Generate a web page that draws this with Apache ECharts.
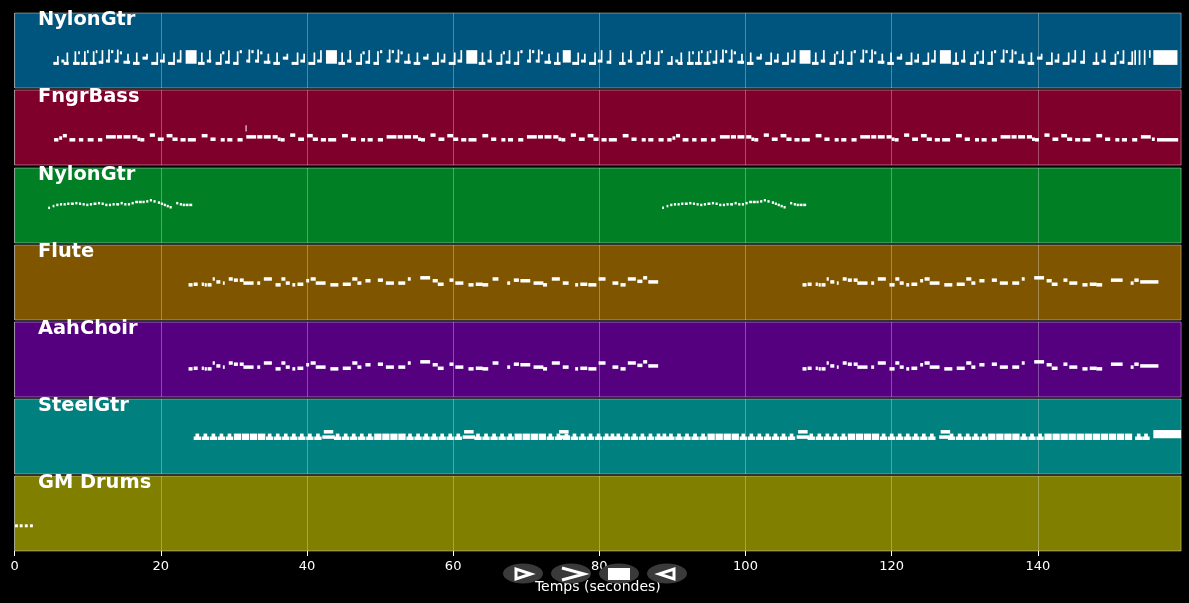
<!DOCTYPE html>
<html>
<head>
<meta charset="utf-8">
<style>html,body{margin:0;padding:0;background:#000}#chart{width:1189px;height:603px}</style>
<script src="https://cdn.jsdelivr.net/npm/echarts@6/dist/echarts.min.js"></script>
</head>
<body>
<div id="chart"></div>
<script>
// notes are [start seconds, duration, midi pitch, optional top pitch of a chord]
const trackNames = ['NylonGtr', 'FngrBass', 'NylonGtr', 'Flute', 'AahChoir', 'SteelGtr', 'GM Drums'];
const trackColors = ['#00557f', '#7f002a', '#007f24', '#7f5500', '#55007f', '#00807f', '#807f00'];
const timeTicks = [0, 20, 40, 60, 80, 100, 120, 140];

const guitarNotes = [
  [5.3,.7,42],[5.8,.1,42,52],[6.4,.4,46],[6.7,.7,42],[7.1,.1,42,58],[8,.9,42],[8.2,.1,42,60],[8.7,.2,60],[9.1,.9,42],[9.5,.1,42,60],[9.9,.2,62],[10.3,.9,42],[10.7,.1,42,60],[11.1,.2,62],[11.5,.6,44],[11.9,.1,44,62],
  [12.5,.5,46],[12.8,.1,46,63],[13.2,.3,62],[13.7,.5,46],[14,.1,46,63],[14.4,.3,60],[14.9,.9,44],[15.4,.1,44,56],[16.2,.9,42],[16.6,.1,42,58],[17.5,.6,51],[18,.1,51,56],[18.7,.9,42],[19.4,.1,42,58],[19.9,.6,46],[20.3,.1,46,56],[21,.8,42],[21.7,.1,42,58],[22.2,.5,46],[22.6,.1,46,62],[23.4,1.5,44,62],[25.1,.9,42],[25.5,.1,44,58],[26.3,.6,46],[26.6,.1,46,62],[27.5,.7,42],[28.1,.1,42,56],[28.4,.3,60],[28.8,.6,44],[29.2,.1,44,62],[29.9,.7,42],[30.4,.1,42,60],[30.8,.3,62],
  [31.7,.5,46],[32,.1,46,63],[32.4,.3,62],[32.9,.5,46],[33.2,.1,46,63],[33.6,.3,60],[34.1,.9,44],[34.6,.1,44,56],[35.4,.9,42],[35.8,.1,42,58],[36.7,.6,51],[37.2,.1,51,56],[37.9,.9,42],[38.6,.1,42,58],[39.1,.6,46],[39.5,.1,46,56],[40.2,.8,42],[40.9,.1,42,58],[41.4,.5,46],[41.8,.1,46,62],[42.6,1.5,44,62],[44.3,.9,42],[44.7,.1,44,58],[45.5,.6,46],[45.8,.1,46,62],[46.7,.7,42],[47.3,.1,42,56],[47.6,.3,60],[48,.6,44],[48.4,.1,44,62],[49.1,.7,42],[49.6,.1,42,60],[50,.3,62],
  [50.9,.5,46],[51.2,.1,46,63],[51.6,.3,62],[52.1,.5,46],[52.4,.1,46,63],[52.8,.3,60],[53.3,.9,44],[53.8,.1,44,56],[54.6,.9,42],[55,.1,42,58],[55.9,.6,51],[56.4,.1,51,56],[57.1,.9,42],[57.8,.1,42,58],[58.3,.6,46],[58.7,.1,46,56],[59.4,.8,42],[60.1,.1,42,58],[60.6,.5,46],[61,.1,46,62],[61.8,1.5,44,62],[63.5,.9,42],[63.9,.1,44,58],[64.7,.6,46],[65,.1,46,62],[65.9,.7,42],[66.5,.1,42,56],[66.8,.3,60],[67.2,.6,44],[67.6,.1,44,62],[68.3,.7,42],[68.8,.1,42,60],[69.2,.3,62],
  [70.1,.5,46],[70.4,.1,46,63],[70.8,.3,62],[71.3,.5,46],[71.6,.1,46,63],[72,.3,60],[72.5,.9,44],[73,.1,44,56],[73.8,.9,42],[74.2,.1,42,58],[75,1.1,46,62],[76.3,.9,42],[77,.1,42,58],[77.5,.6,46],[77.9,.1,46,56],[78.6,.8,42],[79.3,.1,42,58],[79.8,.5,46],[80.2,.1,46,62],[81,.6,44],[81.4,.1,44,62],[82.7,.9,42],[83.1,.1,44,58],[83.9,.6,46],[84.2,.1,46,62],[85.1,.7,42],[85.7,.1,42,56],[86,.3,60],[86.4,.6,44],[86.8,.1,44,62],[87.5,.7,42],[88,.1,42,60],[88.4,.3,62],
  [89.3,.7,42],[89.8,.1,42,52],[90.4,.4,46],[90.7,.7,42],[91.1,.1,42,58],[92,.9,42],[92.2,.1,42,60],[92.7,.2,60],[93.1,.9,42],[93.5,.1,42,60],[93.9,.2,62],[94.3,.9,42],[94.7,.1,42,60],[95.1,.2,62],[95.5,.6,44],[95.9,.1,44,62],
  [96.5,.5,46],[96.8,.1,46,63],[97.2,.3,62],[97.7,.5,46],[98,.1,46,63],[98.4,.3,60],[98.9,.9,44],[99.4,.1,44,56],[100.2,.9,42],[100.6,.1,42,58],[101.5,.6,51],[102,.1,51,56],[102.7,.9,42],[103.4,.1,42,58],[103.9,.6,46],[104.3,.1,46,56],[105,.8,42],[105.7,.1,42,58],[106.2,.5,46],[106.6,.1,46,62],[107.4,1.5,44,62],[109.1,.9,42],[109.5,.1,44,58],[110.3,.6,46],[110.6,.1,46,62],[111.5,.7,42],[112.1,.1,42,56],[112.4,.3,60],[112.8,.6,44],[113.2,.1,44,62],[113.9,.7,42],[114.4,.1,42,60],[114.8,.3,62],
  [115.7,.5,46],[116,.1,46,63],[116.4,.3,62],[116.9,.5,46],[117.2,.1,46,63],[117.6,.3,60],[118.1,.9,44],[118.6,.1,44,56],[119.4,.9,42],[119.8,.1,42,58],[120.7,.6,51],[121.2,.1,51,56],[121.9,.9,42],[122.6,.1,42,58],[123.1,.6,46],[123.5,.1,46,56],[124.2,.8,42],[124.9,.1,42,58],[125.4,.5,46],[125.8,.1,46,62],[126.6,1.5,44,62],[128.3,.9,42],[128.7,.1,44,58],[129.5,.6,46],[129.8,.1,46,62],[130.7,.7,42],[131.3,.1,42,56],[131.6,.3,60],[132,.6,44],[132.4,.1,44,62],[133.1,.7,42],[133.6,.1,42,60],[134,.3,62],
  [134.9,.5,46],[135.2,.1,46,63],[135.6,.3,62],[136.1,.5,46],[136.4,.1,46,63],[136.8,.3,60],[137.3,.9,44],[137.8,.1,44,56],[138.6,.9,42],[139,.1,42,58],[139.9,.6,51],[140.4,.1,51,56],[141.1,.9,42],[141.8,.1,42,58],[142.3,.6,46],[142.7,.1,46,56],[143.4,.8,42],[144.1,.1,42,58],[144.6,.5,46],[145,.1,46,62],[145.8,.6,44],[146.2,.1,44,62],[147.5,.9,42],[147.9,.1,44,58],[148.7,.6,46],[149,.1,46,62],[149.9,.7,42],[150.5,.1,42,56],[150.8,.3,60],[151.2,.6,44],[151.6,.1,44,62],[152.3,.7,42],[152.8,.1,42,60],[153.2,.1,42,62],[153.8,.1,42,62],[154.5,.1,42,62],[155.2,.2,54,62],
  [155.8,3.3,42,62]
];

const bassNotes = [
  [5.4,.6,43],[6.1,.4,46],[6.6,.55,50],[7.5,.8,43],[8.8,.6,43],[10,.8,43],[11.4,.6,43],
  [12.5,1.35,48],[14,.7,48],[14.9,.95,48],[16.1,.7,48],[16.8,.4,44],[17.2,.55,43],[18.5,.7,51],[19.6,.8,44],[20.8,.8,50],[21.6,.7,44],[22.7,.7,43],[23.7,1.1,43],[25.6,.8,50],[26.8,.7,44],[28.2,.55,43],[29.1,.7,43],[30.5,.7,43],
  [31.6,.12,60,65],[31.7,1.35,48],[33.2,.7,48],[34.1,.95,48],[35.3,.7,48],[36,.4,44],[36.4,.55,43],[37.7,.7,51],[38.8,.8,44],[40,.8,50],[40.8,.7,44],[41.9,.7,43],[42.9,1.1,43],[44.8,.8,50],[46,.7,44],[47.4,.55,43],[48.3,.7,43],[49.7,.7,43],
  [50.9,1.35,48],[52.4,.7,48],[53.3,.95,48],[54.5,.7,48],[55.2,.4,44],[55.6,.55,43],[56.9,.7,51],[58,.8,44],[59.2,.8,50],[60,.7,44],[61.1,.7,43],[62.1,1.1,43],[64,.8,50],[65.2,.7,44],[66.6,.55,43],[67.5,.7,43],[68.9,.7,43],
  [70.1,1.35,48],[71.6,.7,48],[72.5,.95,48],[73.7,.7,48],[74.4,.4,44],[74.8,.55,43],[76.1,.7,51],[77.2,.8,44],[78.4,.8,50],[79.2,.7,44],[80.3,.7,43],[81.3,1.1,43],[83.2,.8,50],[84.4,.7,44],[85.8,.55,43],[86.7,.7,43],[88.1,.7,43],
  [89.3,.6,43],[90,.4,46],[90.5,.55,50],[91.4,.8,43],[92.7,.6,43],[93.9,.8,43],[95.3,.6,43],
  [96.5,1.35,48],[98,.7,48],[98.9,.95,48],[100.1,.7,48],[100.8,.4,44],[101.2,.55,43],[102.5,.7,51],[103.6,.8,44],[104.8,.8,50],[105.6,.7,44],[106.7,.7,43],[107.7,1.1,43],[109.6,.8,50],[110.8,.7,44],[112.2,.55,43],[113.1,.7,43],[114.5,.7,43],
  [115.7,1.35,48],[117.2,.7,48],[118.1,.95,48],[119.3,.7,48],[120,.4,44],[120.4,.55,43],[121.7,.7,51],[122.8,.8,44],[124,.8,50],[124.8,.7,44],[125.9,.7,43],[126.9,1.1,43],[128.8,.8,50],[130,.7,44],[131.4,.55,43],[132.3,.7,43],[133.7,.7,43],
  [134.9,1.35,48],[136.4,.7,48],[137.3,.95,48],[138.5,.7,48],[139.2,.4,44],[139.6,.55,43],[140.9,.7,51],[142,.8,44],[143.2,.8,50],[144,.7,44],[145.1,.7,43],[146.1,1.1,43],[148,.8,50],[149.2,.7,44],[150.6,.55,43],[151.5,.7,43],[152.9,.7,43],
  [154.1,1.35,48],[155.6,.4,44],[156.3,2.9,43]
];

const melodyNotes = [
  [4.6,.25,60],[5.2,.25,63],[5.7,.3,65],[6.2,.3,66],[6.7,.3,66],[7.2,.3,67],[7.7,.4,67],[8.3,.3,68],[8.8,.3,67],[9.3,.3,66],[9.8,.3,65],[10.3,.3,66],[10.8,.4,67],[11.4,.3,68],[11.9,.3,67],[12.4,.3,65],[12.9,.3,65],[13.4,.3,66],[13.9,.4,66],[14.5,.3,68],[15,.3,66],[15.5,.3,66],[16,.3,68],[16.5,.4,70],[17,.4,70],[17.5,.3,70],[18,.3,71],[18.5,.3,73],[19,.3,71],[19.6,.3,69],[20,.3,67],[20.4,.3,65],[20.8,.3,63],[21.2,.3,61],[22.1,.3,68],[22.6,.3,66],[23,.3,65],[23.4,.4,65],[23.9,.4,65],
  [88.6,.25,60],[89.2,.25,63],[89.7,.3,65],[90.2,.3,66],[90.7,.3,66],[91.2,.3,67],[91.7,.4,67],[92.3,.3,68],[92.8,.3,67],[93.3,.3,66],[93.8,.3,65],[94.3,.3,66],[94.8,.4,67],[95.4,.3,68],[95.9,.3,67],[96.4,.3,65],[96.9,.3,65],[97.4,.3,66],[97.9,.4,66],[98.5,.3,68],[99,.3,66],[99.5,.3,66],[100,.3,68],[100.5,.4,70],[101,.4,70],[101.5,.3,70],[102,.3,71],[102.5,.3,73],[103,.3,71],[103.6,.3,69],[104,.3,67],[104.4,.3,65],[104.8,.3,63],[105.2,.3,61],[106.1,.3,68],[106.6,.3,66],[107,.3,65],[107.4,.4,65],[107.9,.4,65]
];

const fluteNotes = [
  [23.8,.55,60],[24.5,.55,61],[25.6,.3,61],[26,.3,60],[26.4,.55,60],[27.1,.3,70],[27.6,.55,65],[28.5,.25,63],[29.3,.55,70],[30,.55,68],[30.8,.55,68],[31.3,1.4,63],[33.2,.4,63],[34.1,1.1,70],[35.7,.7,60],[36.5,.55,70],[37.1,.55,63],[38,.4,60],[38.7,.8,61],[39.9,.4,67],[40.5,.7,70],[41.2,1.35,63],[43.2,1.1,60],[44.9,1.1,61],[46.2,.7,70],[46.9,.55,63],[48,.7,67],[49.7,.7,68],[50.8,1.1,63],[52.5,.95,63],[53.8,.4,70],[55.5,1.35,72],[57.2,.7,67],[57.9,.8,61],[59.5,.55,68],[60.3,1.1,63],[62.1,.7,60],[63.1,.95,61],[64,.8,60],[65.4,.8,70],[67.4,.4,63],[68.3,.7,68],[69.2,1.35,67],[71,1.35,63],[72.3,.55,60],[73.5,1.1,70],[75,.8,63],[76.7,.4,60],[77.4,.95,61],[78.5,1.1,60],[79.9,.95,70],[81.8,.8,63],[82.9,.7,60],[83.9,1.1,70],[85.2,.7,66],[86,.55,72],[86.7,1.35,65],
  [107.8,.55,60],[108.5,.55,61],[109.6,.3,61],[110,.3,60],[110.4,.55,60],[111.1,.3,70],[111.6,.55,65],[112.5,.25,63],[113.3,.55,70],[114,.55,68],[114.8,.55,68],[115.3,1.4,63],[117.2,.4,63],[118.1,1.1,70],[119.7,.7,60],[120.5,.55,70],[121.1,.55,63],[122,.4,60],[122.7,.8,61],[123.9,.4,67],[124.5,.7,70],[125.2,1.35,63],[127.2,1.1,60],[128.9,1.1,61],[130.2,.7,70],[130.9,.55,63],[132,.7,67],[133.7,.7,68],[134.8,1.1,63],[136.5,.95,63],[137.8,.4,70],[139.5,1.35,72],[141.2,.7,67],[141.9,.8,61],[143.5,.55,68],[144.3,1.1,63],[146.1,.7,60],[147.1,.95,61],[148,.8,60],[150,1.6,68],[152.7,.4,63],[153.2,.6,68],[154,2.5,65]
];

// same melody as the flute, one octave lower
const choirNotes = fluteNotes.map(n => [n[0], n[1], n[2] - 12]);

// steel guitar: broken chords, full chords and long high notes
const steelBroken = [24.5,25.6,26.7,27.8,28.9,34.4,35.5,36.6,37.7,38.8,39.9,41,43.7,44.8,45.9,47,48.1,53.6,54.7,55.8,56.9,58,59.1,60.2,62.9,64,65.1,66.2,67.3,72.8,73.9,75,76.1,77.2,78.3,79.4,80.5,81.3,82.1,83.2,84.3,85.4,86.5,87.6,88.4,89.3,90.4,91.5,92.6,93.7,99.2,100.3,101.4,102.5,103.6,104.7,105.8,108.5,109.6,110.7,111.8,112.9,118.4,119.5,120.6,121.7,122.8,123.9,125,127.7,128.8,129.9,131,132.1,137.6,138.7,139.8,153.3,154.3];
const steelFull = [30,31.1,32.2,33.3,49.2,50.3,51.4,52.5,68.4,69.5,70.6,71.7,94.8,95.9,97,98.1,114,115.1,116.2,117.3,133.2,134.3,135.4,136.5,140.9,142,143.1,144.2,145.3,146.4,147.5,148.6,149.7,150.8,151.9];
const steelHigh = [42.1,61.3,74.3,126.5,107];
const steelEnding = [[155.8,3.8,64,72]];

const drumNotes = [[.05,.4,43],[.7,.4,43],[1.4,.4,43],[2.1,.4,43]];

const steelNotes = [];
steelBroken.forEach(t => { steelNotes.push([t,1,61]); steelNotes.push([t+.25,.5,66]); });
steelFull.forEach(t => steelNotes.push([t,1,61,66]));
steelHigh.forEach(t => { steelNotes.push([t,1.7,63]); steelNotes.push([t+.2,1.3,72]); });
steelEnding.forEach(n => steelNotes.push(n));

const trackNotes = [guitarNotes, bassNotes, melodyNotes, fluteNotes, choirNotes, steelNotes, drumNotes];
const noteHeights = [3, 3.5, 2.5, 3.5, 3.5, 3.5, 3];
const noteMinWidths = [1.7, 1, 1, 1, 1, 1, 1];

const panelTops = [13, 90, 168, 245, 322, 399, 476];
const panelHeight = 75;
const xMax = 159.6;

function drawNote(height, minWidth) {
  return function (params, api) {
    const from = api.coord([api.value(0), api.value(2)]);
    const to = api.coord([api.value(0) + api.value(1), api.value(3)]);
    return {
      type: 'rect',
      shape: { x: from[0], y: to[1] - height / 2, width: Math.max(to[0] - from[0], minWidth), height: from[1] - to[1] + height },
      style: { fill: '#fff' }
    };
  };
}

const grids = [], xAxes = [], yAxes = [], series = [], titles = [];
trackNames.forEach((name, i) => {
  const last = i === trackNames.length - 1;
  grids.push({ left: 14.6, width: 1166.5, top: panelTops[i], height: panelHeight, show: true,
    backgroundColor: trackColors[i], borderColor: 'rgba(255,255,255,0.4)', borderWidth: 1 });
  xAxes.push({ gridIndex: i, type: 'value', min: 0, max: xMax,
    name: last ? 'Temps (secondes)' : '', nameLocation: 'middle', nameGap: 29,
    nameTextStyle: { color: '#fff', fontSize: 14, fontFamily: 'DejaVu Sans' },
    axisLine: { show: false },
    axisTick: { show: last, customValues: timeTicks, length: 5, lineStyle: { color: '#fff' } },
    axisLabel: { show: last, customValues: timeTicks, color: '#fff', fontSize: 13, fontFamily: 'DejaVu Sans', margin: 9 },
    splitLine: { show: true, lineStyle: { color: 'rgba(255,255,255,0.3)', width: 1 } } });
  yAxes.push({ gridIndex: i, type: 'value', min: 0, max: 128, show: false, splitLine: { show: false } });
  series.push({ type: 'custom', xAxisIndex: i, yAxisIndex: i, silent: true, animation: false,
    renderItem: drawNote(noteHeights[i], noteMinWidths[i]),
    encode: { x: 0, y: 2 },
    data: trackNotes[i].map(n => [n[0], n[1], n[2], n.length > 3 ? n[3] : n[2]]) });
  titles.push({ text: name, left: 38, top: panelTops[i] - 3, padding: 0,
    textStyle: { color: '#fff', fontSize: 19.4, fontWeight: 'bold', fontFamily: 'DejaVu Sans' } });
});

// playback buttons at the foot of the chart
const buttonLefts = [503, 551, 599, 647];
const buttons = buttonLefts.map(x => ({ type: 'ellipse', z: 50,
  shape: { cx: x + 20, cy: 573.5, rx: 20, ry: 10 }, style: { fill: '#3a3a3a' } }));
const glyphs = [
  { type: 'polygon', z: 51, shape: { points: [[516, 569], [516, 579], [531, 574]] }, style: { fill: 'none', stroke: '#fff', lineWidth: 3 } },
  { type: 'polyline', z: 51, shape: { points: [[562, 568], [584, 574], [562, 580]] }, style: { fill: 'none', stroke: '#fff', lineWidth: 3 } },
  { type: 'rect', z: 51, shape: { x: 608, y: 568, width: 22, height: 12 }, style: { fill: '#fff' } },
  { type: 'polygon', z: 51, shape: { points: [[674, 569], [674, 579], [659, 574]] }, style: { fill: 'none', stroke: '#fff', lineWidth: 3 } }
];

const myChart = echarts.init(document.getElementById('chart'), null, { renderer: 'canvas' });
myChart.setOption({
  backgroundColor: '#000',
  animation: false,
  title: titles,
  grid: grids,
  xAxis: xAxes,
  yAxis: yAxes,
  series: series,
  graphic: buttons.concat(glyphs)
});
</script>
</body>
</html>
